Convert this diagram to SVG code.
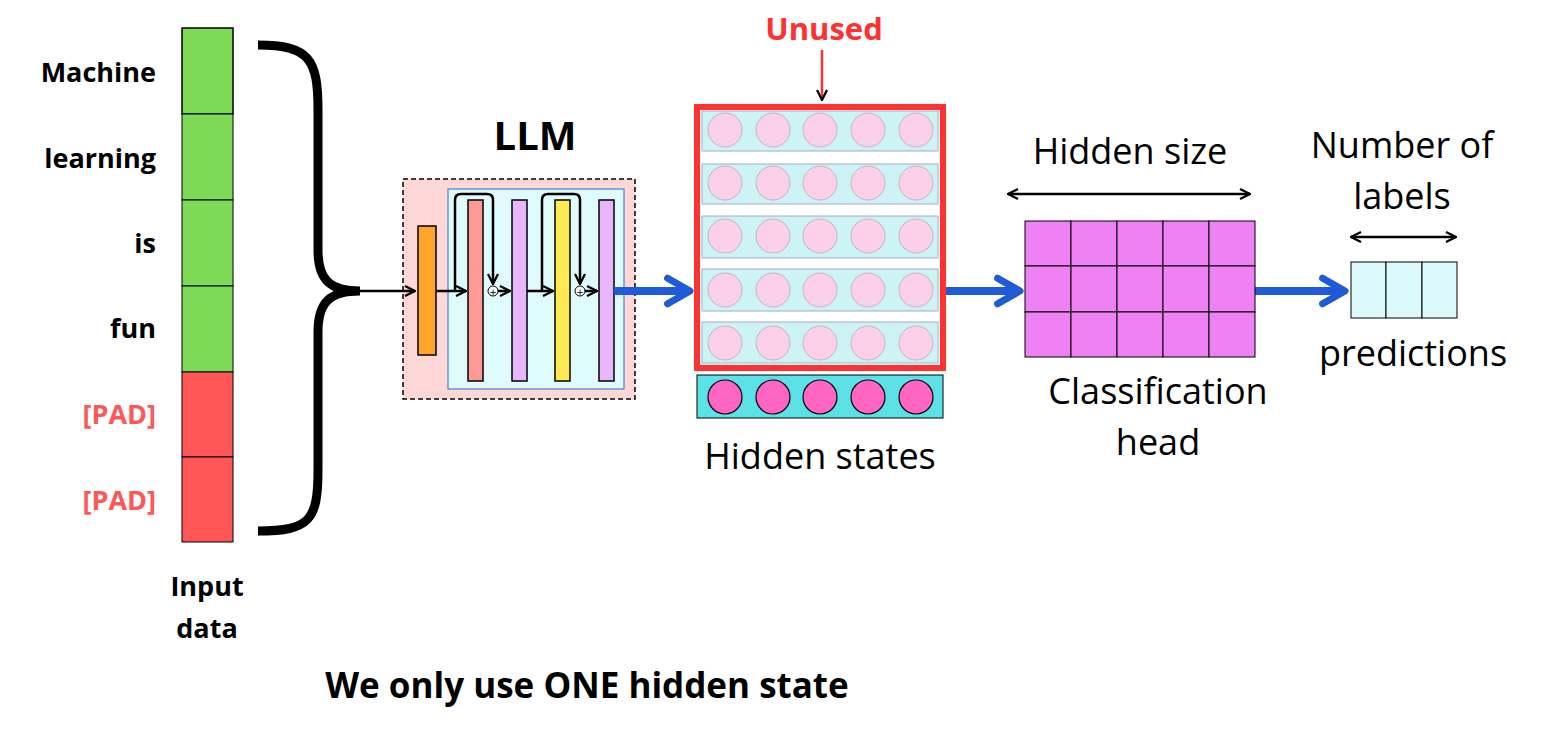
<svg xmlns="http://www.w3.org/2000/svg" width="1547" height="730" viewBox="0 0 1547 730">
<style>
.tk{font-family:"Open Sans","Liberation Sans",sans-serif;font-weight:bold;font-size:27px;text-anchor:end}
.lb{font-family:"Open Sans","Liberation Sans",sans-serif;font-size:36px;fill:#000;text-anchor:middle}
.bar{stroke:#000;stroke-width:1.5}
.pc{fill:#fdd0ea;stroke:#bbb;stroke-width:1}
.row{fill:#cdf3f5;stroke:#aac;stroke-width:1}
.dc{fill:#ff66c4;stroke:#000;stroke-width:1.2}
.cell{fill:#ee82f5;stroke:#000;stroke-width:1}
.pr{fill:#dcfafc;stroke:#000;stroke-width:1}
.blue{stroke:#1f5bd6;stroke-width:8;fill:none}
.thin{stroke:#000;stroke-width:2.5;fill:none}
</style>
<defs>
<marker id="bh" viewBox="0 0 10 10" refX="8" refY="5" markerWidth="4" markerHeight="5" orient="auto" markerUnits="strokeWidth"><path d="M1 1 L8 5 L1 9" fill="none" stroke="#1f5bd6" stroke-width="2.2" stroke-linecap="round" stroke-linejoin="round"/></marker>
<marker id="ah" viewBox="0 0 10 10" refX="9" refY="5" markerWidth="5" markerHeight="5" orient="auto" markerUnits="strokeWidth"><path d="M1 1 L9 5 L1 9" fill="none" stroke="#000" stroke-width="1.8"/></marker>
<marker id="as" viewBox="0 0 10 10" refX="1" refY="5" markerWidth="5" markerHeight="5" orient="auto" markerUnits="strokeWidth"><path d="M9 1 L1 5 L9 9" fill="none" stroke="#000" stroke-width="1.8"/></marker>
</defs>
<rect width="1547" height="730" fill="#fff"/>
<g id="tokens">
<rect x="182" y="28" width="51" height="86" fill="#7ed957" class="bar" stroke-width="1"/>
<rect x="182" y="114" width="51" height="86" fill="#7ed957" stroke="#000"/>
<rect x="182" y="200" width="51" height="86" fill="#7ed957" stroke="#000"/>
<rect x="182" y="286" width="51" height="86" fill="#7ed957" stroke="#000"/>
<rect x="182" y="372" width="51" height="85" fill="#ff5757" stroke="#000"/>
<rect x="182" y="457" width="51" height="85" fill="#ff5757" stroke="#000"/>
<text class="tk" x="156" y="82">Machine</text>
<text class="tk" x="156" y="168">learning</text>
<text class="tk" x="156" y="253">is</text>
<text class="tk" x="156" y="338">fun</text>
<text class="tk" x="156" y="424" fill="#ff5757">[PAD]</text>
<text class="tk" x="156" y="510" fill="#ff5757">[PAD]</text>
<text class="tk" x="207" y="596" style="text-anchor:middle">Input</text>
<text class="tk" x="207" y="638" style="text-anchor:middle">data</text>
</g>
<g id="brace"><path d="M258 45 C310 45 318 60 318 110 L318 250 C318 280 330 291 360 291 C330 291 318 302 318 332 L318 470 C318 520 310 531 258 531" fill="none" stroke="#000" stroke-width="9"/></g>
<g id="llm">
<text x="535" y="150" font-family="Open Sans,Liberation Sans,sans-serif" font-weight="bold" font-size="40" text-anchor="middle">LLM</text>
<rect x="403" y="179" width="232" height="220" fill="#ffd7d7" stroke="#000" stroke-width="1.5" stroke-dasharray="5,3"/>
<rect x="448" y="189" width="176" height="200" fill="#dffbfc" stroke="#4a7fd6" stroke-width="1.2"/>
<rect x="418" y="226" width="18" height="129" fill="#ffa52a" class="bar"/>
<rect x="468" y="200" width="15" height="181" fill="#ff9a96" class="bar"/>
<rect x="512" y="200" width="15" height="181" fill="#e8b6fa" class="bar"/>
<rect x="555" y="200" width="15" height="181" fill="#ffe955" class="bar"/>
<rect x="599" y="200" width="15" height="181" fill="#e8b6fa" class="bar"/>
<circle cx="493" cy="291" r="5" fill="#fff" stroke="#000"/><text x="493" y="294.5" font-size="9" text-anchor="middle" font-family="DejaVu Sans,sans-serif">+</text>
<circle cx="580" cy="291" r="5" fill="#fff" stroke="#000"/><text x="580" y="294.5" font-size="9" text-anchor="middle" font-family="DejaVu Sans,sans-serif">+</text>
</g>
<g id="connectors">
<path class="thin" d="M360 291 H415" marker-end="url(#ah)"/>
<path class="thin" d="M436 291 H466" marker-end="url(#ah)"/>
<path class="thin" d="M455 291 V200 Q455 194 461 194 H487 Q493 194 493 200 V284" marker-end="url(#ah)"/>
<path class="thin" d="M498 291 H510" marker-end="url(#ah)"/>
<path class="thin" d="M527 291 H553" marker-end="url(#ah)"/>
<path class="thin" d="M542 291 V200 Q542 194 548 194 H574 Q580 194 580 200 V284" marker-end="url(#ah)"/>
<path class="thin" d="M585 291 H597" marker-end="url(#ah)"/>
<path class="blue" d="M614 291 H690" marker-end="url(#bh)"/>
<path class="blue" d="M946 291 H1020" marker-end="url(#bh)"/>
<path class="blue" d="M1255 291 H1345" marker-end="url(#bh)"/>
<path d="M822 50 V100" stroke="#ff3131" stroke-width="2.5" marker-end="url(#ah)" style="stroke:#ff3131"/>
<path class="thin" d="M1008 194 H1250" marker-start="url(#as)" marker-end="url(#ah)"/>
<path class="thin" d="M1351 237 H1456" marker-start="url(#as)" marker-end="url(#ah)"/>
</g>
<g id="hidden">
<text x="824" y="40" font-family="Open Sans,Liberation Sans,sans-serif" font-weight="bold" font-size="31" fill="#ff3131" text-anchor="middle">Unused</text>
<rect x="697" y="108" width="246" height="259" fill="#fff"/>
<rect class="row" x="702" y="111" width="236" height="40"/>
<rect class="row" x="702" y="164" width="236" height="40"/>
<rect class="row" x="702" y="216" width="236" height="42"/>
<rect class="row" x="702" y="269" width="236" height="42"/>
<rect class="row" x="702" y="322" width="236" height="41"/>
<g class="pc">
<circle cx="725" cy="130" r="17"/><circle cx="773" cy="130" r="17"/><circle cx="820" cy="130" r="17"/><circle cx="868" cy="130" r="17"/><circle cx="916" cy="130" r="17"/>
<circle cx="725" cy="183" r="17"/><circle cx="773" cy="183" r="17"/><circle cx="820" cy="183" r="17"/><circle cx="868" cy="183" r="17"/><circle cx="916" cy="183" r="17"/>
<circle cx="725" cy="236" r="17"/><circle cx="773" cy="236" r="17"/><circle cx="820" cy="236" r="17"/><circle cx="868" cy="236" r="17"/><circle cx="916" cy="236" r="17"/>
<circle cx="725" cy="290" r="17"/><circle cx="773" cy="290" r="17"/><circle cx="820" cy="290" r="17"/><circle cx="868" cy="290" r="17"/><circle cx="916" cy="290" r="17"/>
<circle cx="725" cy="343" r="17"/><circle cx="773" cy="343" r="17"/><circle cx="820" cy="343" r="17"/><circle cx="868" cy="343" r="17"/><circle cx="916" cy="343" r="17"/>
</g>
<rect x="697" y="107" width="246" height="261" fill="none" stroke="#ff3131" stroke-width="6"/>
<rect x="697" y="375" width="246" height="43" fill="#5ce1e6" stroke="#000" stroke-width="1"/>
<g class="dc"><circle cx="725" cy="397" r="17"/><circle cx="773" cy="397" r="17"/><circle cx="820" cy="397" r="17"/><circle cx="868" cy="397" r="17"/><circle cx="916" cy="397" r="17"/></g>
<text class="lb" x="820" y="469">Hidden states</text>
</g>
<g id="head">
<text class="lb" x="1130" y="164">Hidden size</text>
<g class="cell">
<rect x="1025" y="221" width="46" height="45"/><rect x="1071" y="221" width="46" height="45"/><rect x="1117" y="221" width="46" height="45"/><rect x="1163" y="221" width="46" height="45"/><rect x="1209" y="221" width="46" height="45"/>
<rect x="1025" y="266" width="46" height="46"/><rect x="1071" y="266" width="46" height="46"/><rect x="1117" y="266" width="46" height="46"/><rect x="1163" y="266" width="46" height="46"/><rect x="1209" y="266" width="46" height="46"/>
<rect x="1025" y="312" width="46" height="45"/><rect x="1071" y="312" width="46" height="45"/><rect x="1117" y="312" width="46" height="45"/><rect x="1163" y="312" width="46" height="45"/><rect x="1209" y="312" width="46" height="45"/>
</g>
<text class="lb" x="1158" y="404">Classification</text>
<text class="lb" x="1158" y="455">head</text>
</g>
<g id="predictions">
<text class="lb" x="1402" y="158">Number of</text>
<text class="lb" x="1402" y="209">labels</text>
<rect class="pr" x="1351" y="262" width="35" height="56"/><rect class="pr" x="1386" y="262" width="36" height="56"/><rect class="pr" x="1422" y="262" width="35" height="56"/>
<text class="lb" x="1413" y="366">predictions</text>
</g>
<text x="587" y="698" font-family="Open Sans,Liberation Sans,sans-serif" font-weight="bold" font-size="35" text-anchor="middle">We only use ONE hidden state</text>
</svg>
